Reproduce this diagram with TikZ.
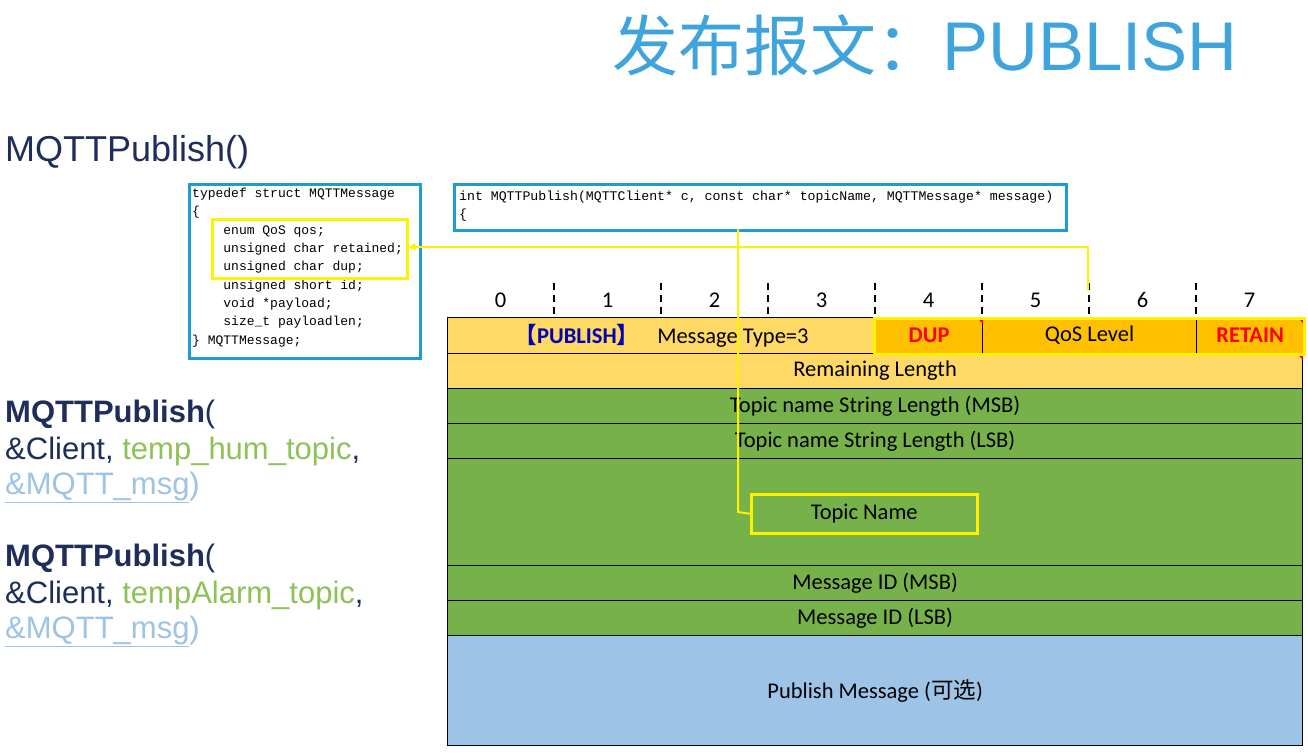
\documentclass[tikz,border=0pt]{standalone}
\usepackage{fontspec}
\setmainfont{Liberation Sans}
\newfontfamily\cjk{Noto Sans CJK SC}
\newfontfamily\tbl{Carlito}
\newfontfamily\code{Liberation Mono}
\usetikzlibrary{arrows.meta}
\definecolor{navy}{HTML}{1F2D5A}
\definecolor{ttl}{HTML}{3FA4DC}
\definecolor{lgreen}{HTML}{8DC255}
\definecolor{lblue}{HTML}{9DC3E6}
\definecolor{pale}{HTML}{FFD966}
\definecolor{gold}{HTML}{FFC000}
\definecolor{grn}{HTML}{77B14A}
\definecolor{frame}{HTML}{1E9BD7}
\definecolor{hl}{HTML}{FFF200}
\begin{document}
\begin{tikzpicture}[x=1pt,y=-1pt,
  cell/.style={draw=black,line width=1.2pt,inner sep=0pt,anchor=north west},
  lt/.style={font=\tbl\fontsize{22.5}{24}\selectfont},
  codebox/.style={draw=frame,line width=3pt,fill=white,anchor=north west,inner sep=0pt},
  hlbox/.style={draw=hl,line width=2.5pt,anchor=north west,inner sep=0pt},
  conn/.style={hl,line width=2pt},
  side/.style={anchor=west,inner sep=0pt,font=\fontsize{31}{34}\selectfont}]
\useasboundingbox (0,0) rectangle (1308,754);
\fill[white] (0,0) rectangle (1308,754);
% title
\node[anchor=west,inner sep=0pt,text=ttl] (title) at (612,45)
  {{\cjk\fontsize{66}{70}\selectfont 发布报文：}{\fontsize{69}{70}\selectfont PUBLISH}};
% left texts
\node[side,text=navy,font=\fontsize{36}{38}\selectfont] (fn) at (5,152) {MQTTPublish()};
\node[side,text=navy] (c1a) at (5,414) {\textbf{MQTTPublish}(};
\node[side,text=navy] (c1b) at (5,451) {\&Client, \textcolor{lgreen}{temp\_hum\_topic},};
\node[side,text=lblue] (c1c) at (5,487) {\underline{\&MQTT\_msg})};
\node[side,text=navy] (c2a) at (5,558) {\textbf{MQTTPublish}(};
\node[side,text=navy] (c2b) at (5,595) {\&Client, \textcolor{lgreen}{tempAlarm\_topic},};
\node[side,text=lblue] (c2c) at (5,631) {\underline{\&MQTT\_msg})};
% code boxes
\node[codebox,minimum width=231pt,minimum height=174pt] (st) at (188,183) {};
\node[anchor=north west,inner sep=0pt,align=left,font=\code\fontsize{13}{18.3}\selectfont] (stt) at (192,188)
  {typedef struct MQTTMessage\\ \{\\
  \hspace*{2.4em}enum QoS qos;\\
  \hspace*{2.4em}unsigned char retained;\\
  \hspace*{2.4em}unsigned char dup;\\
  \hspace*{2.4em}unsigned short id;\\
  \hspace*{2.4em}void *payload;\\
  \hspace*{2.4em}size\_t payloadlen;\\
  \} MQTTMessage;};
\node[hlbox,minimum width=195pt,minimum height=59pt] (sthl) at (211,218) {};
\node[codebox,minimum width=612pt,minimum height=46pt] (fb) at (453,183) {};
\node[anchor=north west,inner sep=0pt,align=left,font=\code\fontsize{13.2}{18}\selectfont] (fbt) at (459,191)
  {int MQTTPublish(MQTTClient* c, const char* topicName, MQTTMessage* message)\\ \{};
% table header
\foreach \i in {0,...,7}{
  \node[lt] (h\i) at ({447+107*\i+53.5},300) {\i};
}
\foreach \i in {1,...,7}{
  \draw[line width=1.3pt,dash pattern=on 7pt off 5pt] ({447+107*\i},283) -- ({447+107*\i},317);
}
% rows
\node[cell,fill=pale,minimum width=428pt,minimum height=36pt,lt] (mt) at (447,317)
  {\textcolor{blue!70!black}{\textbf{{\cjk 【}PUBLISH{\cjk 】}}}\hspace{0.8em}Message Type=3};
\node[cell,fill=gold,minimum width=107pt,minimum height=36pt,lt,text=red] (dup) at (875,317) {\textbf{DUP}};
\node[cell,fill=gold,minimum width=214pt,minimum height=36pt,lt] (qos) at (982,317) {QoS Level};
\node[cell,fill=gold,minimum width=107pt,minimum height=36pt,lt,text=red] (ret) at (1196,317) {\textbf{RETAIN}};
\node[cell,fill=pale,minimum width=855pt,minimum height=35pt,lt] (rl) at (447,353) {Remaining Length};
\node[cell,fill=grn,minimum width=855pt,minimum height=35pt,lt] (msb) at (447,388) {Topic name String Length (MSB)};
\node[cell,fill=grn,minimum width=855pt,minimum height=35pt,lt] (lsb) at (447,423) {Topic name String Length (LSB)};
\node[cell,fill=grn,minimum width=855pt,minimum height=107pt] (tn) at (447,458) {};
\node[cell,fill=grn,minimum width=855pt,minimum height=35pt,lt] (im) at (447,565) {Message ID (MSB)};
\node[cell,fill=grn,minimum width=855pt,minimum height=35pt,lt] (il) at (447,600) {Message ID (LSB)};
\node[cell,fill=lblue,minimum width=855pt,minimum height=110pt,lt] (pm) at (447,635)
  {Publish Message ({\cjk 可选})};
% red comment marks
\foreach \c in {dup,ret,rl}{
  \fill[red] ([xshift=-6pt,yshift=-1pt]\c.north east) -- ([yshift=-1pt]\c.north east) -- ([yshift=-7pt]\c.north east) -- cycle;
}
\node[hlbox,minimum width=430pt,minimum height=36pt] (flags) at (873,317) {};
\node[hlbox,minimum width=226pt,minimum height=39pt,lt] (tname) at (750,493) {Topic Name};
% connectors
\coordinate (q1) at (1088,290);
\coordinate (q2) at (1088,247);
\draw[conn,-{Triangle[length=7pt,width=7pt]}] (q1) -- (q2) -- (q2 -| sthl.east);
\coordinate (t1) at (738,229);
\coordinate (t2) at (738,512);
\draw[conn] (t1) -- (t2) -- (tname.west);
\end{tikzpicture}
\end{document}
